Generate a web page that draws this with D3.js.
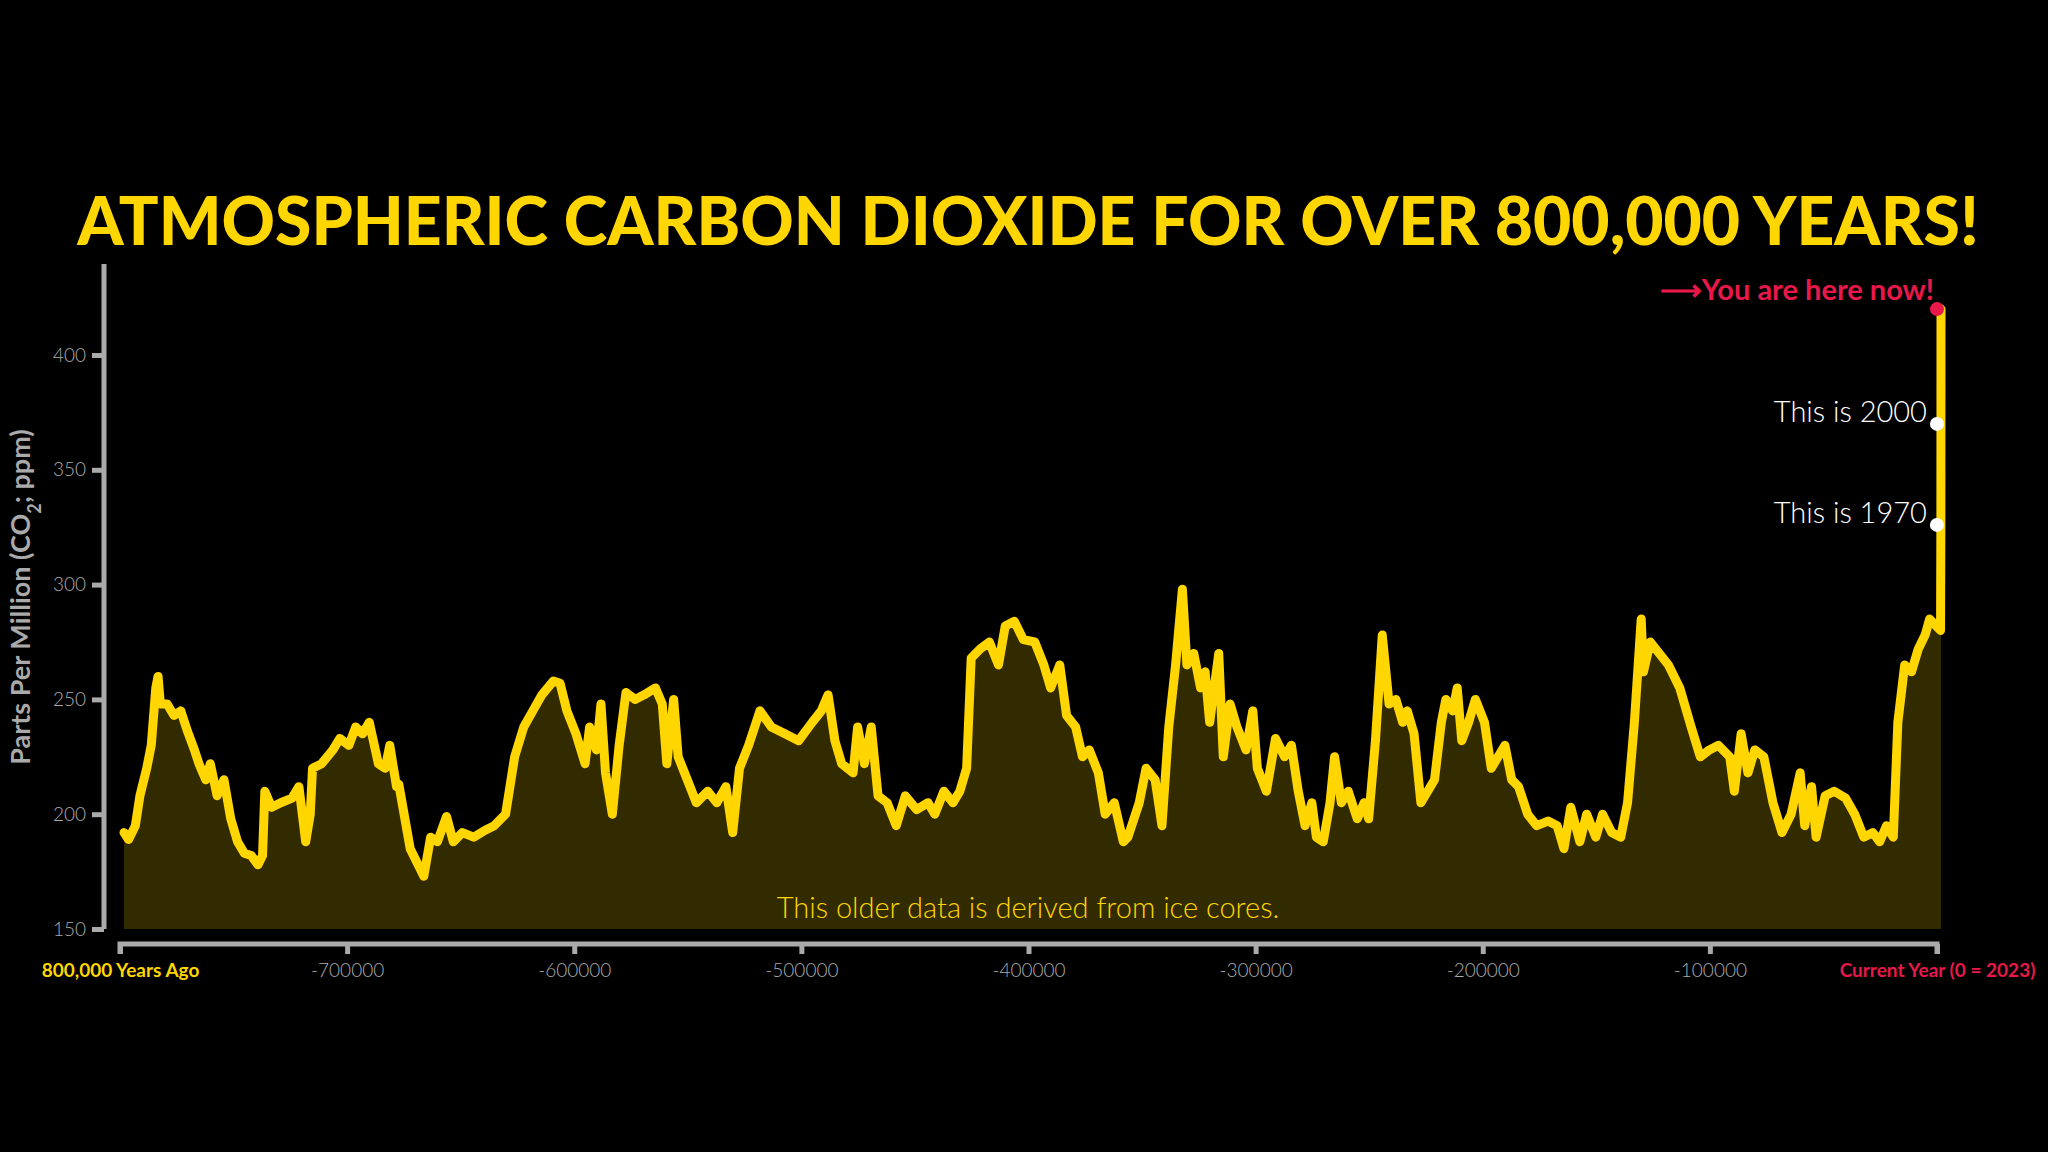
<!DOCTYPE html>
<html lang="en">
<head>
<meta charset="UTF-8">
<script src="https://d3js.org/d3.v7.min.js"></script>
<style>
  body { margin: 0; background: #000; }
  text { font-family: Lato, "Open Sans", sans-serif; }
</style>
</head>
<body>
<script>
// years in thousands before 2023, CO2 in ppm
var years = [-800,-798,-795,-793,-790,-788,-786,-785,-784,-781,-778,-775,-772,-769,-767,-764,-762,-759,-756,-753,-750,-747,-744,-741,-739,-738,-735,-731,-726,-723,-720,-718,-717,-713,-708,-705,-701,-698,-695,-692,-688,-685,-683,-680,-679,-674,-670,-668,-665,-662,-658,-655,-651,-646,-641,-637,-632,-628,-624,-620,-616,-611,-608,-605,-601,-597,-595,-592,-590,-588,-585,-582,-579,-575,-571,-566,-563,-561,-558,-556,-552,-548,-543,-539,-535,-532,-529,-525,-520,-515,-509,-503,-497,-493,-490,-487,-484,-479,-477,-474,-471,-468,-464,-460,-456,-451,-446,-443,-439,-435,-432,-429,-427,-423,-419,-415,-412,-408,-404,-399,-395,-392,-388,-385,-381,-378,-375,-371,-368,-364,-360,-358,-353,-350,-346,-343,-340,-337,-334,-332,-329,-326,-324,-322,-320,-318,-316,-313,-310,-306,-303,-301,-297,-293,-289,-286,-283,-280,-277,-275,-272,-269,-267,-264,-261,-257,-254,-252,-249,-246,-243,-240,-237,-235,-232,-229,-226,-223,-220,-218,-215,-213,-211,-208,-205,-201,-198,-195,-192,-189,-186,-182,-178,-173,-169,-166,-163,-159,-156,-152,-149,-145,-141,-138,-135,-132,-131,-128,-124,-120,-115,-110,-106,-102,-98,-93,-91,-88,-85,-82,-78,-74,-70,-66,-62,-60,-57,-55,-51,-47,-42,-38,-34,-30,-27,-24,-21,-19,-16,-13,-10,-7,-5,-0.2,-0.053,-0.023,0];
var ppm = [192,189,195,208,220,230,255,260,248,248,243,245,236,228,222,215,222,208,215,198,188,183,182,178,182,210,203,205,207,212,188,200,220,222,228,233,230,238,235,240,222,220,230,212,213,185,177,173,190,188,199,188,192,190,193,195,200,225,238,245,252,258,257,245,235,222,238,228,248,218,200,230,253,250,252,255,248,222,250,225,215,205,210,205,212,192,220,230,245,238,235,232,240,245,252,232,222,218,238,222,238,208,205,195,208,202,205,200,210,205,210,220,268,272,275,265,282,284,276,275,265,255,265,243,238,225,228,218,200,205,188,190,205,220,215,195,238,265,298,265,270,255,262,240,255,270,225,248,238,228,245,220,210,233,225,230,210,195,205,190,188,205,225,205,210,198,205,198,232,278,248,250,240,245,235,205,210,215,240,250,245,255,232,240,250,240,220,225,230,215,212,200,195,197,195,185,203,188,200,190,200,192,190,205,240,285,262,275,270,265,255,238,225,228,230,225,210,235,218,228,225,205,192,200,218,195,212,190,208,210,207,200,190,192,188,195,190,240,265,262,272,278,285,280,326,370,420];
var xTicks = [-800000,-700000,-600000,-500000,-400000,-300000,-200000,-100000,0];
var yTicks = [150,200,250,300,350,400];

var W = 2048, H = 1152;
var yellow = "#FFD600", red = "#E8194A", grey = "#aaaaaa";

var svg = d3.select("body").append("svg").attr("width", W).attr("height", H)
  .style("background", "#000");

var x = d3.scaleLinear().domain([-800000, 0]).range([120, 1937]);
var y = d3.scaleLinear().domain([150, 400]).range([929, 355]);

var data = years.map(function (d, i) { return { year: d * 1000, v: ppm[i] }; });

// area + line
svg.append("path").datum(data)
  .attr("fill", "#332b00")
  .attr("d", d3.area().x(function (d) { return x(d.year) + 4; }).y0(y(150)).y1(function (d) { return y(d.v); }));
svg.append("path").datum(data)
  .attr("fill", "none").attr("stroke", yellow).attr("stroke-width", 9)
  .attr("stroke-linejoin", "round").attr("stroke-linecap", "round")
  .attr("d", d3.line().x(function (d) { return x(d.year) + 4; }).y(function (d) { return y(d.v); }));

// y axis
var gy = svg.append("g").attr("transform", "translate(104,0)")
  .call(d3.axisLeft(y).tickValues(yTicks).tickSize(12).tickPadding(6));
gy.select(".domain").attr("d", "M0,264V929").attr("stroke", grey).attr("stroke-width", 5);
gy.selectAll(".tick line").attr("stroke", grey).attr("stroke-width", 5);
gy.selectAll(".tick text").attr("fill", grey).style("font-size", "19px").style("font-weight", 300)
  .style("font-family", "Lato, sans-serif");

// x axis
var gx = svg.append("g").attr("transform", "translate(0,944)")
  .call(d3.axisBottom(x).tickValues(xTicks).tickSize(10).tickPadding(10).tickFormat(function (d) { return d; }));
gx.select(".domain").attr("stroke", grey).attr("stroke-width", 5)
  .attr("d", "M120,10V0H1937V10");
gx.selectAll(".tick line").attr("stroke", grey).attr("stroke-width", 5);
gx.selectAll(".tick text").attr("fill", grey).style("font-size", "19px").style("font-weight", 300)
  .style("font-family", "Lato, sans-serif");
gx.selectAll(".tick text").filter(function (d) { return d === -800000; })
  .text("800,000 Years Ago").attr("fill", yellow).style("font-weight", 700);
gx.selectAll(".tick text").filter(function (d) { return d === 0; })
  .text("Current Year (0 = 2023)").attr("fill", red).style("font-weight", 700);

// y label
svg.append("text")
  .attr("transform", "translate(30,597) rotate(-90)")
  .attr("text-anchor", "middle").attr("fill", grey)
  .style("font-size", "27px").style("font-weight", 700)
  .html('Parts Per Million (CO<tspan baseline-shift="sub" font-size="18px">2</tspan>; ppm)');

// title
svg.append("text").attr("x", 1028).attr("y", 245).attr("text-anchor", "middle")
  .attr("fill", yellow).style("font-size", "66px").style("font-weight", 900)
  .text("ATMOSPHERIC CARBON DIOXIDE FOR OVER 800,000 YEARS!");

// annotations
var last = data[data.length - 1];
svg.append("text").attr("x", 1934).attr("y", 300).attr("text-anchor", "end")
  .attr("fill", red).style("font-size", "29px").style("font-weight", 700)
  .text("\u27F6You are here now!");
svg.append("circle").attr("cx", x(0)).attr("cy", y(last.v)).attr("r", 7).attr("fill", red);

[[data[data.length - 2], "This is 2000"], [data[data.length - 3], "This is 1970"]].forEach(function (p) {
  svg.append("circle").attr("cx", x(p[0].year)).attr("cy", y(p[0].v)).attr("r", 7).attr("fill", "#fff");
  svg.append("text").attr("x", x(p[0].year) - 10).attr("y", y(p[0].v) - 2).attr("text-anchor", "end")
    .attr("fill", "#fff").style("font-size", "29px").style("font-weight", 300).text(p[1]);
});

svg.append("text").attr("x", 1028).attr("y", 918).attr("text-anchor", "middle")
  .attr("fill", yellow).style("font-size", "29px").style("font-weight", 300)
  .text("This older data is derived from ice cores.");
</script>
</body>
</html>
